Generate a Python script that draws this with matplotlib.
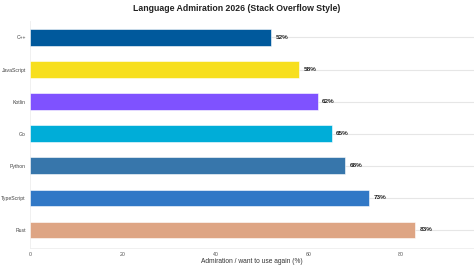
import matplotlib.pyplot as plt
import numpy as np

plt.rcParams['font.family'] = ['Liberation Sans', 'DejaVu Sans']

languages = ['Rust', 'TypeScript', 'Python', 'Go', 'Kotlin', 'JavaScript', 'C++']
admiration = [83, 73, 68, 65, 62, 58, 52]
colors = ['#DEA584', '#3178C6', '#3776AB', '#00ADD8', '#7F52FF', '#F7DF1E', '#00599C']

fig = plt.figure(figsize=(4.74, 2.68), dpi=100)
ax = fig.add_axes([0.063, 0.075, 0.937, 0.845])

y = np.arange(len(languages))
ax.barh(y, admiration, height=0.52, color=colors, edgecolor='white', linewidth=0.4, zorder=3)

# value labels
for yi, v in zip(y, admiration):
    ax.text(v + 1.0, yi, f'{v}%', va='center', ha='left', fontsize=4.6, fontweight='bold', color='#222222', zorder=4)

ax.set_yticks(y)
ax.set_yticklabels(languages, fontsize=3.7, color='#444444')
ax.set_xlim(0, 95.7)
ax.set_ylim(-0.56, 6.5)
ax.set_xticks([0, 20, 40, 60, 80])
ax.tick_params(axis='x', labelsize=3.8, colors='#555555', length=0, pad=3)
ax.tick_params(axis='y', length=0, pad=3)

ax.grid(axis='y', color='#e6e6e6', linewidth=0.8, zorder=0)
for s in ['top', 'right']:
    ax.spines[s].set_visible(False)
ax.spines['left'].set_color('#eeeeee')
ax.spines['left'].set_linewidth(0.6)
ax.spines['bottom'].set_color('#eeeeee')
ax.spines['bottom'].set_linewidth(0.6)

ax.set_xlabel('Admiration / want to use again (%)', fontsize=4.8, color='#333333', labelpad=1)
fig.suptitle('Language Admiration 2026 (Stack Overflow Style)', fontsize=6.3, fontweight='bold', color='#222222', y=0.985)

fig.savefig('out.png', dpi=100)
